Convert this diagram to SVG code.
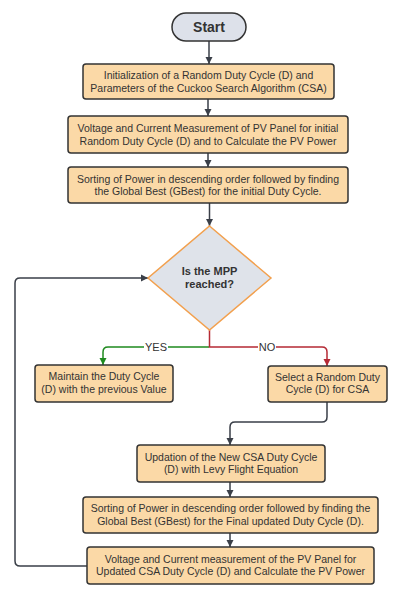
<svg xmlns="http://www.w3.org/2000/svg" width="402" height="598" viewBox="0 0 402 598">
<style>
.box{fill:#fbd9a7;stroke:#333;stroke-width:1.5}
.t{font-family:"Liberation Sans",Arial,sans-serif;font-size:10.5px;fill:#333;text-anchor:middle}
.b{font-weight:bold}
.c{fill:none;stroke:#3a3f48;stroke-width:1.5}
.g{fill:none;stroke:#1f8a1f;stroke-width:1.5}
.r{fill:none;stroke:#b52a35;stroke-width:1.5}
</style>
<defs>
<marker id="ad" markerWidth="8" markerHeight="8" refX="7" refY="4" orient="auto" markerUnits="userSpaceOnUse"><path d="M0,0.5 L7,4 L0,7.5 Z" fill="#3a3f48"/></marker>
<marker id="ag" markerWidth="8" markerHeight="8" refX="7" refY="4" orient="auto" markerUnits="userSpaceOnUse"><path d="M0,0.5 L7,4 L0,7.5 Z" fill="#1f8a1f"/></marker>
<marker id="ar" markerWidth="8" markerHeight="8" refX="7" refY="4" orient="auto" markerUnits="userSpaceOnUse"><path d="M0,0.5 L7,4 L0,7.5 Z" fill="#b52a35"/></marker>
</defs>
<rect width="402" height="598" fill="#fff"/>
<g id="connectors">
<path class="c" d="M209 41 V64" marker-end="url(#ad)"/>
<path class="c" d="M208 99 V116" marker-end="url(#ad)"/>
<path class="c" d="M208 153 V167" marker-end="url(#ad)"/>
<path class="c" d="M209.5 203 V226" marker-end="url(#ad)"/>
<path class="g" d="M209 347 H108 Q103 347 103 352 V365" marker-end="url(#ag)"/>
<path class="r" d="M209.5 330 V347 H322 Q327 347 327 352 V366" marker-end="url(#ar)"/>
<path class="c" d="M327 402 V417 Q327 422 322 422 H235 Q230 422 230 427 V445" marker-end="url(#ad)"/>
<path class="c" d="M230 482 V497" marker-end="url(#ad)"/>
<path class="c" d="M230 533 V547" marker-end="url(#ad)"/>
<path class="c" d="M87 566 H20 Q15 566 15 561 V283 Q15 278 20 278 H148" marker-end="url(#ad)"/>
<rect x="144" y="341" width="24" height="12" fill="#fff"/>
<text class="t" x="156" y="351" style="font-size:11px">YES</text>
<rect x="258" y="341" width="18" height="12" fill="#fff"/>
<text class="t" x="267" y="351" style="font-size:11px">NO</text>
</g>
<g id="start">
<rect x="172" y="13" width="74" height="28" rx="14" fill="#dde1ea" stroke="#333" stroke-width="1.5"/>
<text class="t b" x="209" y="32" style="font-size:14px">Start</text>
</g>
<g id="init">
<rect class="box" x="83" y="64" width="251" height="35" rx="3"/>
<text class="t" x="208.5" y="79">Initialization of a Random Duty Cycle (D) and</text>
<text class="t" x="208.5" y="91.5">Parameters of the Cuckoo Search Algorithm (CSA)</text>
</g>
<g id="measure1">
<rect class="box" x="68" y="116" width="280" height="37" rx="3"/>
<text class="t" x="208" y="132">Voltage and Current Measurement of PV Panel for initial</text>
<text class="t" x="208" y="144.5">Random  Duty Cycle (D) and to Calculate the PV Power</text>
</g>
<g id="sort1">
<rect class="box" x="68" y="167" width="280" height="36" rx="3"/>
<text class="t" x="208" y="182.5">Sorting of Power in descending order followed by finding</text>
<text class="t" x="208" y="195">the Global Best (GBest) for the initial Duty Cycle.</text>
</g>
<g id="decision">
<polygon points="209.5,226 271,278 209.5,330 148,278" fill="#dfe3ea" stroke="#f2a04e" stroke-width="1.5"/>
<text class="t b" x="209.5" y="275" style="font-size:11px">Is the MPP</text>
<text class="t b" x="209.5" y="288" style="font-size:11px">reached?</text>
</g>
<g id="maintain">
<rect class="box" x="35" y="365" width="138" height="37" rx="3"/>
<text class="t" x="104" y="380">Maintain the Duty Cycle</text>
<text class="t" x="104" y="393">(D) with the previous Value</text>
</g>
<g id="select">
<rect class="box" x="268" y="366" width="119" height="36" rx="3"/>
<text class="t" x="327.5" y="380.5">Select a Random Duty</text>
<text class="t" x="327.5" y="393">Cycle (D) for CSA</text>
</g>
<g id="update">
<rect class="box" x="137" y="445" width="188" height="37" rx="3"/>
<text class="t" x="231" y="460.5">Updation of the New CSA Duty Cycle</text>
<text class="t" x="231" y="473">(D) with Levy Flight Equation</text>
</g>
<g id="sort2">
<rect class="box" x="83" y="497" width="295" height="36" rx="3"/>
<text class="t" x="230.5" y="512">Sorting of Power in descending order followed by finding the</text>
<text class="t" x="230.5" y="524.5">Global Best (GBest) for the Final updated Duty Cycle (D).</text>
</g>
<g id="measure2">
<rect class="box" x="87" y="547" width="287" height="37" rx="3"/>
<text class="t" x="230.5" y="562.5">Voltage and Current  measurement of the PV Panel for</text>
<text class="t" x="230.5" y="575">Updated CSA Duty Cycle (D) and Calculate the PV Power</text>
</g>
</svg>
